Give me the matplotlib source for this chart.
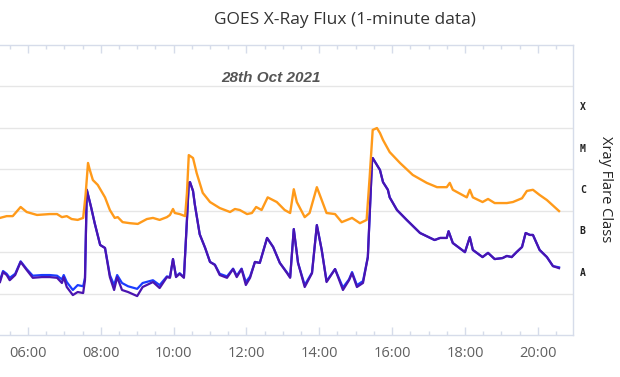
import matplotlib
matplotlib.use("Agg")
import matplotlib.pyplot as plt
import matplotlib.dates as mdates
import pandas as pd
import numpy as np

DAY = "2021-10-28 "

long_times = ["05:14","05:25","05:35","05:48","05:58","06:15","06:36","06:48","06:56","07:04",
              "07:12","07:22","07:31","07:35","07:39","07:42","07:47","07:55","08:07","08:15",
              "08:23","08:28","08:36","08:48","09:01","09:16","09:26","09:37","09:49","09:54",
              "09:59","10:02","10:10","10:19","10:22","10:25","10:32","10:38","10:48","11:00",
              "11:16","11:33","11:41","11:49","12:01","12:09","12:16","12:25","12:35","12:50",
              "13:03","13:12","13:18","13:23","13:36","13:44","13:56","14:04","14:12","14:26",
              "14:37","14:54","15:07","15:18","15:23","15:28","15:35","15:40","15:45","15:56",
              "16:13","16:34","16:57","17:14","17:30","17:35","17:40","18:03","18:08","18:13",
              "18:29","18:38","18:49","19:09","19:19","19:34","19:42","19:52","20:03","20:15",
              "20:35"]
long_flux = [6.7e-7,7.4e-7,7.4e-7,1.23e-6,9.3e-7,7.9e-7,8.3e-7,8.3e-7,7.0e-7,7.4e-7,
             6.3e-7,6.0e-7,6.7e-7,2.4e-6,1.42e-5,9.6e-6,5.5e-6,4.2e-6,2.1e-6,1.04e-6,
             6.7e-7,7.0e-7,5.3e-7,5.0e-7,4.8e-7,6.3e-7,6.7e-7,6.0e-7,7.0e-7,7.9e-7,
             1.10e-6,8.8e-7,8.3e-7,7.4e-7,2.7e-6,2.2e-5,1.87e-5,8.1e-6,2.7e-6,1.62e-6,
             1.16e-6,9.3e-7,1.10e-6,1.04e-6,8.3e-7,8.8e-7,1.23e-6,1.04e-6,2.1e-6,1.62e-6,
             1.04e-6,8.8e-7,3.3e-6,1.62e-6,7.0e-7,8.8e-7,3.7e-6,1.81e-6,8.8e-7,8.3e-7,
             5.3e-7,6.7e-7,5.0e-7,6.0e-7,6.5e-6,8.9e-5,9.9e-5,7.5e-5,5.1e-5,2.6e-5,
             1.42e-5,7.3e-6,4.7e-6,3.7e-6,3.7e-6,4.7e-6,3.2e-6,2.1e-6,3.2e-6,2.1e-6,
             1.62e-6,1.92e-6,1.53e-6,1.53e-6,1.62e-6,2.0e-6,3.0e-6,3.2e-6,2.4e-6,1.81e-6,
             9.8e-7]

short_times = ["05:14","05:19","05:25","05:30","05:39","05:48","05:58","06:08","06:23","06:36",
               "06:48","06:56","06:59","07:04","07:14","07:22","07:31","07:34","07:37","07:44",
               "07:50","07:59","08:07","08:15","08:22","08:27","08:35","08:45","09:00","09:09",
               "09:26","09:37","09:49","09:54","09:59","10:04","10:10","10:17","10:22","10:25",
               "10:27","10:32","10:35","10:43","10:52","11:00","11:08","11:16","11:28","11:38",
               "11:44","11:52","11:59","12:06","12:14","12:22","12:34","12:44","12:55","13:07",
               "13:12","13:18","13:25","13:36","13:48","13:56","14:04","14:12","14:26","14:39",
               "14:49","14:54","15:02","15:12","15:20","15:27","15:28","15:40","15:45","15:53",
               "15:56","16:08","16:24","16:46","17:10","17:19","17:30","17:33","17:40","18:00",
               "18:08","18:13","18:29","18:38","18:49","19:02","19:09","19:17","19:25","19:34",
               "19:40","19:47","19:52","20:03","20:15","20:25","20:35"]
short_flux_a = [1.9e-8,3.3e-8,2.8e-8,2.1e-8,2.8e-8,5.8e-8,3.7e-8,2.4e-8,2.5e-8,2.5e-8,
                2.4e-8,1.8e-8,2.5e-8,1.44e-8,9.2e-9,1.09e-8,1.03e-8,2.1e-8,3.2e-6,1.23e-6,
                5.0e-7,1.49e-7,1.26e-7,2.5e-8,1.22e-8,2.5e-8,1.22e-8,1.09e-8,8.7e-9,1.44e-8,
                1.9e-8,1.36e-8,2.5e-8,2.4e-8,6.8e-8,2.5e-8,3.0e-8,2.4e-8,6.0e-7,4.7e-6,
                4.9e-6,3.0e-6,1.4e-6,2.7e-7,1.26e-7,5.8e-8,4.9e-8,2.8e-8,2.4e-8,3.9e-8,
                2.5e-8,3.9e-8,1.61e-8,2.4e-8,5.8e-8,5.5e-8,2.2e-7,1.33e-7,5.5e-8,3.1e-8,
                2.4e-8,3.6e-7,5.5e-8,1.44e-8,3.1e-8,4.5e-7,1.13e-7,1.9e-8,3.9e-8,1.22e-8,
                2.1e-8,3.1e-8,1.44e-8,1.8e-8,7.6e-8,1.67e-5,1.87e-5,9.6e-6,4.9e-6,3.2e-6,
                2.1e-6,1.04e-6,6.0e-7,2.9e-7,1.96e-7,2.2e-7,2.2e-7,3.2e-7,1.66e-7,1.0e-7,
                2.3e-7,1.13e-7,7.6e-8,9.6e-8,6.8e-8,7.2e-8,8.1e-8,7.6e-8,1.0e-7,1.33e-7,
                2.9e-7,2.6e-7,2.6e-7,1.13e-7,7.6e-8,4.6e-8,4.1e-8]
short_flux_b = [2.1e-8,3.5e-8,3.0e-8,2.4e-8,3.0e-8,6.0e-8,3.9e-8,2.7e-8,2.8e-8,2.8e-8,
                2.7e-8,2.2e-8,2.8e-8,1.9e-8,1.22e-8,1.6e-8,1.5e-8,2.4e-8,3.2e-6,1.23e-6,
                5.0e-7,1.49e-7,1.26e-7,2.8e-8,1.6e-8,2.8e-8,1.8e-8,1.5e-8,1.3e-8,1.8e-8,
                2.1e-8,1.6e-8,2.6e-8,2.5e-8,6.8e-8,2.6e-8,3.1e-8,2.5e-8,6.0e-7,4.7e-6,
                4.9e-6,3.0e-6,1.4e-6,2.7e-7,1.26e-7,5.8e-8,5.0e-8,3.0e-8,2.6e-8,4.0e-8,
                2.7e-8,4.0e-8,1.9e-8,2.6e-8,5.8e-8,5.5e-8,2.2e-7,1.33e-7,5.5e-8,3.2e-8,
                2.5e-8,3.6e-7,5.5e-8,1.6e-8,3.2e-8,4.5e-7,1.13e-7,2.0e-8,3.9e-8,1.4e-8,
                2.2e-8,3.3e-8,1.6e-8,2.0e-8,7.6e-8,1.67e-5,1.87e-5,9.6e-6,4.9e-6,3.2e-6,
                2.1e-6,1.04e-6,6.0e-7,2.9e-7,1.96e-7,2.2e-7,2.2e-7,3.2e-7,1.66e-7,1.0e-7,
                2.3e-7,1.13e-7,7.6e-8,9.6e-8,6.8e-8,7.2e-8,8.1e-8,7.6e-8,1.0e-7,1.33e-7,
                2.9e-7,2.6e-7,2.6e-7,1.13e-7,7.6e-8,4.6e-8,4.3e-8]

flare_classes = ["X", "M", "C", "B", "A"]
class_centres = [3.16e-4, 3.16e-5, 3.16e-6, 3.16e-7, 3.16e-8]
decades = [1e-9, 1e-8, 1e-7, 1e-6, 1e-5, 1e-4, 1e-3, 1e-2]

lt = pd.to_datetime([DAY + t for t in long_times])
st = pd.to_datetime([DAY + t for t in short_times])

fig = plt.figure(figsize=(6.2, 3.77), dpi=100)
ax = fig.add_axes([0.0, 1 - 335/377, 573/620, (335 - 45)/377])

ax.set_yscale("log")
ax.set_ylim(1e-9, 1e-2)
ax.set_xlim(pd.Timestamp(DAY + "05:14"), pd.Timestamp(DAY + "20:58"))

for d in decades[1:-1]:
    ax.axhline(d, color="#e6e6e6", lw=1.0, zorder=0)

ax.plot(st, short_flux_b, color="#1a3cff", lw=1.6, zorder=2)
ax.plot(st, short_flux_a, color="#4a14b0", lw=1.6, zorder=3)
ax.plot(lt, long_flux, color="#ff9a1a", lw=1.7, zorder=5)

ax.yaxis.set_visible(False)
ax.xaxis.set_major_locator(mdates.HourLocator(byhour=range(0, 24, 2)))
ax.xaxis.set_minor_locator(mdates.MinuteLocator(byminute=[0, 30]))
ax.xaxis.set_major_formatter(mdates.DateFormatter("%H:%M"))
ax.tick_params(axis="x", which="major", direction="in", length=6, width=1,
               color="#d6dcea", labelsize=10.5, labelcolor="#606060", pad=8,
               top=True, bottom=True)
ax.tick_params(axis="x", which="minor", direction="in", length=3, width=1,
               color="#d6dcea", top=True, bottom=True)
for lab in ax.get_xticklabels():
    lab.set_fontfamily("Open Sans")

ax.spines["left"].set_visible(False)
for s in ["top", "right", "bottom"]:
    ax.spines[s].set_color("#d6dcea")
    ax.spines[s].set_linewidth(1.0)

for lab, c in zip(flare_classes, class_centres):
    ax.text(1.017, c, lab, transform=ax.get_yaxis_transform(), ha="center", va="center",
            fontsize=7, fontweight="bold", family="DejaVu Sans Mono", color="#222222")

fig.text(605/620, 1 - 189/377, "Xray Flare Class", rotation=270, ha="center", va="center",
         fontsize=10.5, color="#222222", family="Open Sans")
fig.text(345/620, 1 - 20/377, "GOES X-Ray Flux (1-minute data)", ha="center", va="center",
         fontsize=12.5, color="#333333", family="Open Sans")
fig.text(271/620, 1 - 78/377, "28th Oct 2021", ha="center", va="center",
         fontsize=11, fontweight="bold", fontstyle="italic", color="#555555",
         family="Liberation Sans")

fig.savefig("out.png", dpi=100)
